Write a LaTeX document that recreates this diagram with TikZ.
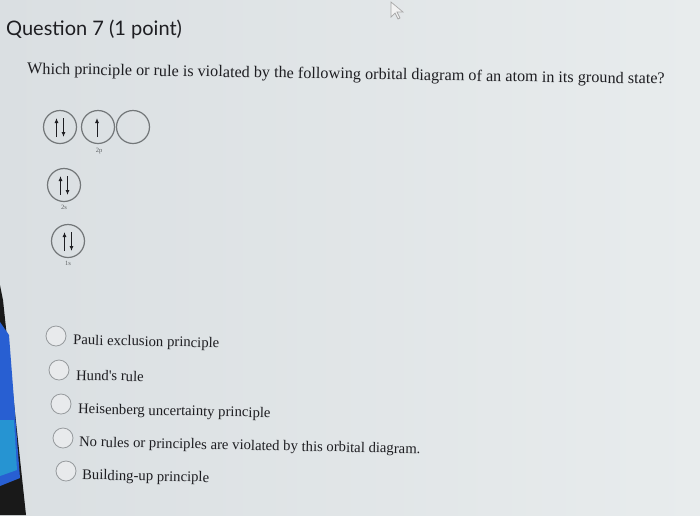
\documentclass[tikz,border=0pt]{standalone}
\usepackage{fontspec}
\setmainfont{Liberation Serif}
\newfontfamily\latofont{Lato}
\usetikzlibrary{arrows.meta,calc}
\definecolor{bgA}{RGB}{218,223,226}
\definecolor{bgB}{RGB}{232,236,237}
\definecolor{orbgray}{RGB}{115,119,121}
\definecolor{txt}{RGB}{30,30,34}
\definecolor{radiofill}{RGB}{232,234,236}
\definecolor{radioline}{RGB}{150,154,157}
\definecolor{scrblue}{RGB}{40,95,210}
\begin{document}
\begin{tikzpicture}[x=1pt,y=-1pt,
  orb/.style={circle,draw=orbgray,line width=1.2pt,minimum size=33pt,inner sep=0pt},
  spin/.style={line width=1pt,draw=txt,-{Latex[length=5pt,width=4pt]}},
  sublabel/.style={font=\fontsize{6.5}{7}\selectfont,text=orbgray!80!black,inner sep=0pt},
  radio/.style={circle,draw=radioline,fill=radiofill,line width=0.8pt,minimum size=20pt,inner sep=0pt},
  opt/.style={anchor=west,font=\fontsize{14.7}{17}\selectfont,text=txt,inner sep=0pt,rotate=-1.2},
]
\useasboundingbox (0,0) rectangle (700,515);
\shade[left color=bgA,right color=bgB] (0,0) rectangle (700,515);
% screen edge at left
\fill[black!90] (0,285) -- (3,300) -- (26,515) -- (0,515) -- cycle;
\fill[scrblue] (0,322) -- (9,335) -- (20,478) -- (0,486) -- cycle;
\fill[cyan!60!scrblue] (0,420) -- (14,420) -- (17,470) -- (0,476) -- cycle;
% cursor
\draw[line width=0.7pt,draw=gray!70,fill=white!90!gray] (391,2) -- (391,17) -- (395,13) -- (398,19) -- (400,18) -- (397,12) -- (403,12) -- cycle;
% title
\node[anchor=base west,inner sep=0pt,font=\latofont\fontsize{20}{22}\selectfont,text=txt] (title) at (6,35) {Question 7 (1 point)};
\node[anchor=west,inner sep=0pt,font=\fontsize{16.2}{18}\selectfont,text=txt,rotate=-0.9] (q) at (27,70) {Which principle or rule is violated by the following orbital diagram of an atom in its ground state?};
% orbitals
\node[orb] (p1) at (60,127) {};
\node[orb] (p2) at (98,127) {};
\node[orb] (p3) at (133,127) {};
\node[sublabel] (lp) at (99,151) {2p};
\node[orb] (s2) at (64,185) {};
\node[sublabel] (ls2) at (64,207) {2s};
\node[orb] (s1) at (68,241) {};
\node[sublabel] (ls1) at (68,263) {1s};
\foreach \o in {p1,s2,s1}{
  \draw[spin] ([xshift=-3.5pt,yshift=-10pt]\o.center) -- ([xshift=-3.5pt,yshift=9pt]\o.center);
  \draw[spin] ([xshift=3.5pt,yshift=9pt]\o.center) -- ([xshift=3.5pt,yshift=-10pt]\o.center);
}
\draw[spin] ([xshift=-1pt,yshift=-10pt]p2.center) -- ([xshift=-1pt,yshift=9pt]p2.center);
% options
\node[radio] (r1) at (56,336) {};
\node[radio] (r2) at (59,370) {};
\node[radio] (r3) at (61,404) {};
\node[radio] (r4) at (63,438) {};
\node[radio] (r5) at (66,471) {};
\node[opt] (o1) at (73,341) {Pauli exclusion principle};
\node[opt] (o2) at (76,375) {Hund\textquotesingle s rule};
\node[opt] (o3) at (78,410) {Heisenberg uncertainty principle};
\node[opt] (o4) at (79,443) {No rules or principles are violated by this orbital diagram.};
\node[opt] (o5) at (82,476) {Building-up principle};
\end{tikzpicture}
\end{document}
